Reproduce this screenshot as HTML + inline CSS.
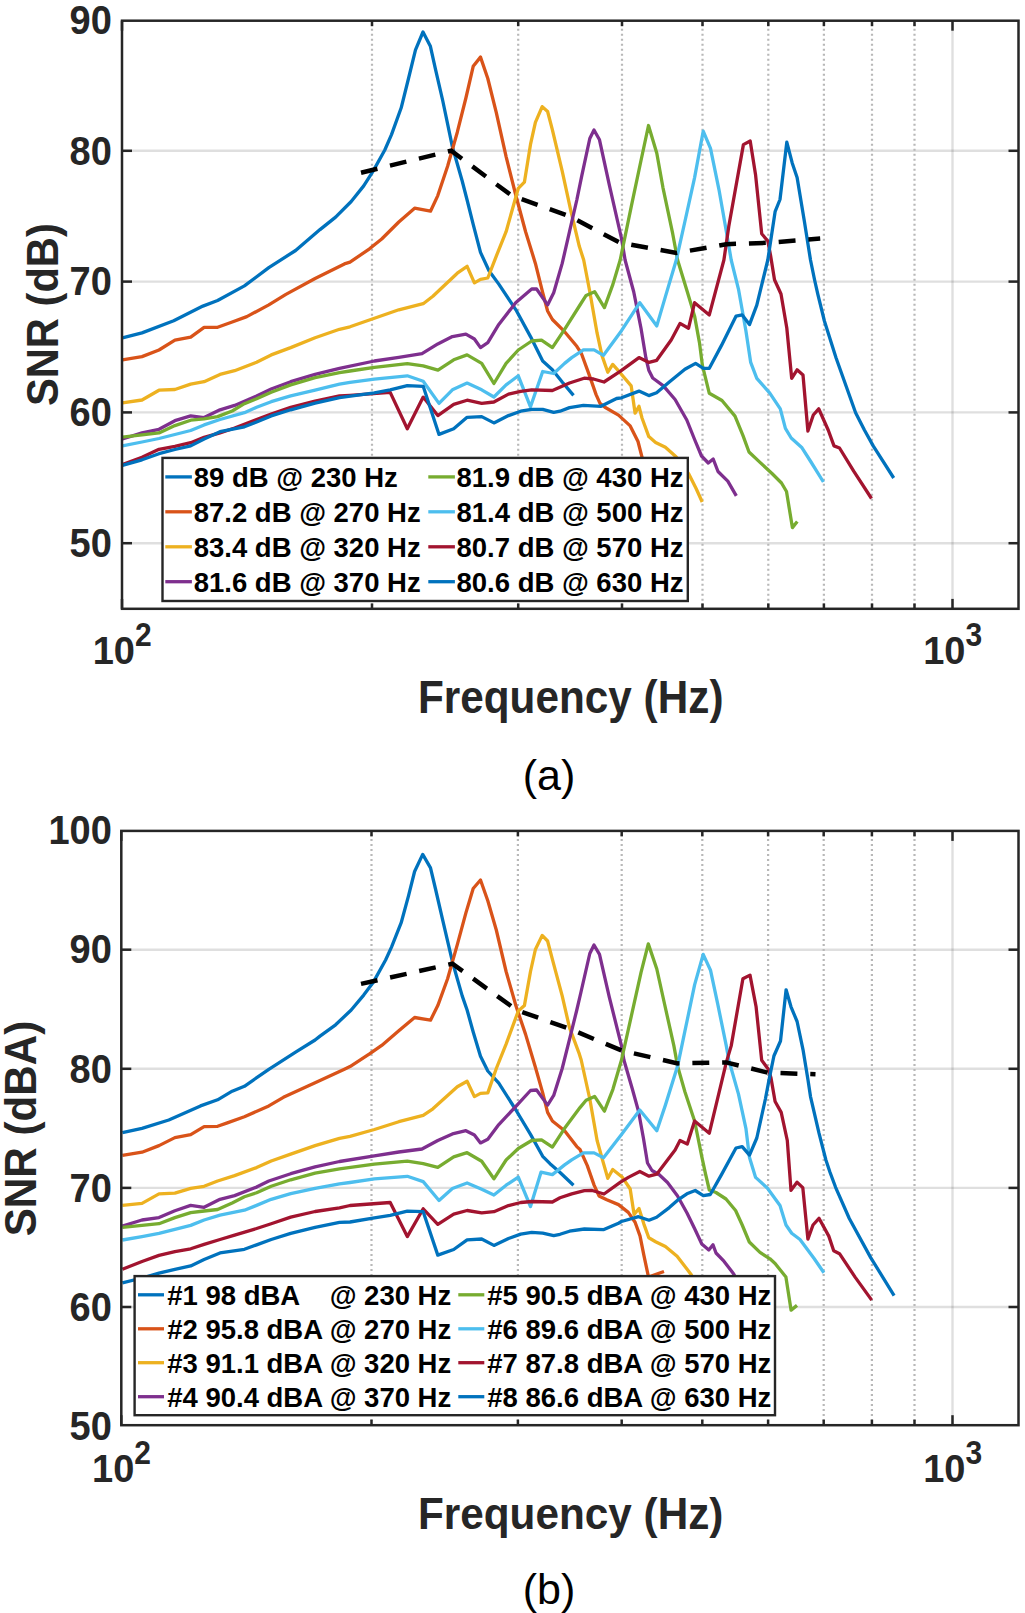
<!DOCTYPE html>
<html><head><meta charset="utf-8"><title>SNR vs Frequency</title>
<style>html,body{margin:0;padding:0;background:#fff;}svg{display:block;}</style>
</head><body>
<svg width="1025" height="1613" viewBox="0 0 1025 1613">
<rect width="1025" height="1613" fill="#fff"/>
<g stroke="#262626" stroke-opacity="0.15" stroke-width="2.4" fill="none">
<line x1="122" y1="150.8" x2="1018.5" y2="150.8"/>
<line x1="122" y1="281.6" x2="1018.5" y2="281.6"/>
<line x1="122" y1="412.4" x2="1018.5" y2="412.4"/>
<line x1="122" y1="543.2" x2="1018.5" y2="543.2"/>
<line x1="952.5" y1="20.7" x2="952.5" y2="608.9"/>
</g>
<g stroke="#b8b8b8" stroke-width="2.2" stroke-dasharray="2 3" fill="none">
<line x1="372" y1="23.7" x2="372" y2="608.9"/>
<line x1="518.2" y1="23.7" x2="518.2" y2="608.9"/>
<line x1="622" y1="23.7" x2="622" y2="608.9"/>
<line x1="702.5" y1="23.7" x2="702.5" y2="608.9"/>
<line x1="768.3" y1="23.7" x2="768.3" y2="608.9"/>
<line x1="823.9" y1="23.7" x2="823.9" y2="608.9"/>
<line x1="872" y1="23.7" x2="872" y2="608.9"/>
<line x1="914.5" y1="23.7" x2="914.5" y2="608.9"/>
</g>
<g fill="none" stroke-width="3.3" stroke-linejoin="round" stroke-linecap="butt">
<polyline stroke="#0072BD" points="122.4,337.8 142,332.9 173.7,320.7 202.9,306.1 217.6,300.5 244.4,285.9 268.8,267.6 295.6,250.5 320,229.6 335.6,217.1 351.2,201.5 363.7,185.9 373.1,171.1 384.8,150 391.5,134.6 401.2,107.8 408.5,78.5 415.5,49.9 423,32 430.4,46.3 435.4,68.8 442.7,100.5 452.4,146.8 462.2,181 467.1,200 473.2,224.4 480.5,252.4 489,270.7 498.8,284.1 515.9,309.8 530.5,336.6 542.7,361 552.4,369.8 562.2,382 573.5,395.4"/>
<polyline stroke="#D95319" points="122.4,359.8 142,356.6 159,350 174.9,340.2 190.7,337.1 204.1,327.3 217.6,327.3 232.2,322 246.8,316.6 268.8,304.9 285.9,294.4 315.1,278.5 344.4,263.9 350,262.2 369.5,248.8 381.7,239 398.8,222 414.6,208.2 430.5,211.2 437.8,195.6 447.6,166.3 457.3,132.2 465.9,98 473.2,66.3 480.5,57.1 487.8,78.5 496.3,112.7 506.1,156.6 516,196 525.6,231.7 535.4,263.4 542.7,292.7 547.6,311 552.4,319.5 564.6,331.7 576.8,346.3 581.5,353.7 589.3,375.1 596.1,394.6 600,403.4 604.9,407.3 618.5,415.1 630.2,425.9 638,441.5 642,457.1 644,470"/>
<polyline stroke="#EDB120" points="122.4,402.9 142,400 159,390.2 174.9,389.5 190.7,384.1 204.1,381.7 220,374.4 234.6,370.7 256.6,362.2 271.2,354.9 290.7,347.6 315.1,337.8 339.5,329.3 350,326.8 374.4,318.3 398.8,309.8 423.2,303.7 432.9,296.3 457.3,273.2 467.1,266.3 474.4,282.9 480.5,279.3 487.8,278 496.3,256.1 506.1,231.7 518.3,188.3 524.4,182.2 530.5,144.4 535.4,122.4 542.2,106.6 547.6,111.5 552.4,129.8 562.2,171.2 570.7,210.2 579.3,246.3 583.7,260 589.8,291.7 597.1,333.2 602,355.6 607.8,372.2 612.7,364.4 620.5,373.2 631.2,385.9 635.1,413.2 639,406.3 642,418 648.8,436.6 655.6,442.4 665.4,447.3 676,456.8 688.8,473.9 696.1,488.5 702.2,502"/>
<polyline stroke="#7E2F8E" points="122.4,439 142,432.9 159,429.3 174.9,420.7 190.7,415.9 204.1,417.6 220,409.8 234.6,405.4 256.6,395.9 271.2,389 290.7,381.7 315.1,374.4 339.5,368.3 374.4,361 398.8,357.3 422,353.7 437.8,343.9 452.4,336.6 465.9,334.1 474.4,339 480.5,347.6 487.8,342.7 498.8,324.4 515.9,302.4 531.7,289 536.6,289 547.6,304.9 553.7,292.7 562.2,263.4 569.5,231.7 576.8,200 581.7,176.1 589.8,138.5 594,130 599.5,139.8 609.3,184.9 621.5,238.5 625.1,260 633.7,291.7 641,328.3 645.9,358 648.8,370.2 652.7,378 663.4,385.9 675.1,399.5 686.8,420 694.6,439.5 701.5,456 708.3,463 713.2,459 718,471.5 727.8,481.2 736.3,495.9"/>
<polyline stroke="#77AC30" points="122.4,437.1 142,434.9 159,432.9 174.9,425.6 190.7,420.2 204.1,418.8 217.6,416.6 232.2,411 244.4,403.7 256.6,398.8 271.2,392.2 290.7,384.9 315.1,377.6 339.5,372.7 350,371 374.4,367.3 407.3,363.7 423.2,365.9 438,370.2 453.7,359.8 467.1,354.9 481.7,363.4 493.9,383.5 506.1,363.4 518.3,350 531.7,341 541.5,340.2 552.4,347.6 564.6,329.3 580,305 586.1,295.4 594.6,291.7 604.4,307.6 612.9,284.4 620.2,260 631.2,206.8 641,160.5 648.5,125.5 656.8,153.2 662.9,187.3 672.7,233.7 677.6,260 687.3,291.7 694.6,316.1 699.5,342.9 702.4,365.4 709.3,393.3 722,400.5 735,416.1 743,435.6 749,452 760,462.4 772,473.5 781.5,483 786.5,491.5 792.4,527.6 797.3,521.5"/>
<polyline stroke="#4DBEEE" points="122.4,445.9 142,442 159,438.5 190.7,430.5 204.1,424.9 220,419.5 244.4,412.7 256.6,407.3 271.2,401.7 290.7,395.9 315.1,390.2 339.5,384.1 350,382.4 374.4,379.1 407.3,375.8 423.2,381.3 439,403.4 452.4,389.8 467.1,383.1 481.7,389.8 493.9,397 506.1,384.9 518.3,375.8 530.5,406.8 542.7,371.5 553.7,373.5 564.6,363.4 571.7,357.6 583.4,349.8 594.1,349.8 603.5,355.3 621.5,330.7 639.8,302.7 656.8,325.9 665.4,296.6 676.3,260 684.9,221.5 694.6,177.6 703.2,131.2 710.5,148.3 719,189.8 726.3,231.2 731.2,260 738.5,289.3 745.9,330.7 750.7,362.4 756.8,378.3 769.8,393.2 780.3,408.8 785.4,428.3 791.2,438 802,447.8 810.7,461.5 823.4,482"/>
<polyline stroke="#A2142F" points="122.4,464.6 142,457.3 159,449.3 174.9,446.3 190.7,442.7 204.1,437.3 220,432.9 234.6,428 256.6,419.5 271.2,414.1 290.7,407.3 315.1,401.2 339.5,395.9 350,395.3 390.2,392.4 407.3,428.8 423.2,397.1 437.8,415.6 453.7,404.4 467.1,400.2 481.7,403.4 493.9,402 508.5,394.1 520.7,391.3 531.7,389.8 552.4,390.5 569.5,383 584.2,378.2 593.5,379 604,382 620.5,371.2 639,357.6 649,362.4 656.7,360.3 671.2,340 680,323.4 688.5,328.3 694.6,302.7 709.3,314.9 723.9,260 728.8,226.3 743.4,144.6 750.2,141 755.6,175.1 761.7,233.7 767.8,241 770.5,255 774.5,279.7 781,294 786.8,328 791.7,378.4 797.1,369.8 803,375 807.9,431 813.3,415 818.7,408.8 828.3,430.2 834,445.9 839.5,448 853.7,471.2 871.5,498.5"/>
<polyline stroke="#0072BD" points="122.4,465.4 142,459.8 159,453.7 174.9,449.5 190.7,445.9 204.1,439 220,431.7 244.4,426.8 256.6,422 271.2,415.9 290.7,409.8 315.1,403.2 339.5,397.6 374.4,392.9 390.2,389.8 407.3,385.6 423.2,386.3 439,434.4 453.7,428.8 467.1,417.3 481.7,416.6 493.9,422.9 508.5,415.6 520.7,411.2 531.7,409.3 542.7,409.3 553.7,412.4 560,411.2 569.5,407.6 583.4,405.4 601,406.3 616.6,398.5 621.5,397.8 639,391.1 648.8,395.6 656.6,392.7 669.3,382 684.9,369.3 695.6,363.4 703.4,368.3 709.3,368.3 721.5,345.4 736.1,316.1 742.2,314.9 749.5,324.6 756.8,305.1 767.8,260 775.1,211.7 780,199.5 786.8,142.2 792.2,162.9 797.1,177.6 804.4,221.5 810.5,260 814.6,280 817.8,294.1 824.4,321 836.1,358 855.6,412.7 864.4,430 873.2,445.9 893.7,478"/>
</g>
<polyline fill="none" stroke="#000" stroke-width="4.5" stroke-dasharray="16.9 12.9" stroke-dashoffset="0" points="361,172.7 451.2,150.7 511.5,195.5 570,216.5 619.5,242.5 676.5,253 726.3,244.2 768,242.8 820.2,238.6"/>
<g stroke="#262626" stroke-width="2.5" fill="none">
<rect x="122" y="20.7" width="896.5" height="588.1"/>
<line x1="122" y1="150.8" x2="132" y2="150.8"/>
<line x1="1008.5" y1="150.8" x2="1018.5" y2="150.8"/>
<line x1="122" y1="281.6" x2="132" y2="281.6"/>
<line x1="1008.5" y1="281.6" x2="1018.5" y2="281.6"/>
<line x1="122" y1="412.4" x2="132" y2="412.4"/>
<line x1="1008.5" y1="412.4" x2="1018.5" y2="412.4"/>
<line x1="122" y1="543.2" x2="132" y2="543.2"/>
<line x1="1008.5" y1="543.2" x2="1018.5" y2="543.2"/>
<line x1="122" y1="608.9" x2="122" y2="598.9"/>
<line x1="122" y1="20.7" x2="122" y2="30.7"/>
<line x1="952.5" y1="608.9" x2="952.5" y2="598.9"/>
<line x1="952.5" y1="20.7" x2="952.5" y2="30.7"/>
<line x1="372" y1="608.9" x2="372" y2="603.4"/>
<line x1="372" y1="20.7" x2="372" y2="26.2"/>
<line x1="518.2" y1="608.9" x2="518.2" y2="603.4"/>
<line x1="518.2" y1="20.7" x2="518.2" y2="26.2"/>
<line x1="622" y1="608.9" x2="622" y2="603.4"/>
<line x1="622" y1="20.7" x2="622" y2="26.2"/>
<line x1="702.5" y1="608.9" x2="702.5" y2="603.4"/>
<line x1="702.5" y1="20.7" x2="702.5" y2="26.2"/>
<line x1="768.3" y1="608.9" x2="768.3" y2="603.4"/>
<line x1="768.3" y1="20.7" x2="768.3" y2="26.2"/>
<line x1="823.9" y1="608.9" x2="823.9" y2="603.4"/>
<line x1="823.9" y1="20.7" x2="823.9" y2="26.2"/>
<line x1="872" y1="608.9" x2="872" y2="603.4"/>
<line x1="872" y1="20.7" x2="872" y2="26.2"/>
<line x1="914.5" y1="608.9" x2="914.5" y2="603.4"/>
<line x1="914.5" y1="20.7" x2="914.5" y2="26.2"/>
</g>
<g font-family="'Liberation Sans', Arial, Helvetica, sans-serif" font-weight="bold" font-size="38" fill="#262626" text-anchor="end">
<text transform="translate(111.8 33.8) scale(1 1.05)">90</text>
<text transform="translate(111.8 164.5) scale(1 1.05)">80</text>
<text transform="translate(111.8 295.3) scale(1 1.05)">70</text>
<text transform="translate(111.8 426.1) scale(1 1.05)">60</text>
<text transform="translate(111.8 556.9) scale(1 1.05)">50</text>
</g>
<g font-family="'Liberation Sans', Arial, Helvetica, sans-serif" font-weight="bold" fill="#262626">
<text x="135" y="664.2" font-size="38" text-anchor="end">10</text>
<text transform="translate(135 645.9) scale(1 1.1)" font-size="30">2</text>
<text x="965.5" y="664.2" font-size="38" text-anchor="end">10</text>
<text transform="translate(965.5 645.9) scale(1 1.1)" font-size="30">3</text>
</g>
<text transform="translate(570.7 712.7) scale(1 1.079)" font-family="'Liberation Sans', Arial, Helvetica, sans-serif" font-weight="bold" font-size="42.3" fill="#262626" text-anchor="middle">Frequency (Hz)</text>
<text transform="translate(58 314.6) rotate(-90) scale(1 1.06)" font-family="'Liberation Sans', Arial, Helvetica, sans-serif" font-weight="bold" font-size="41.7" fill="#262626" text-anchor="middle">SNR (dB)</text>
<text x="549" y="790.3" font-family="'Liberation Sans', Arial, Helvetica, sans-serif" font-size="43" fill="#000" text-anchor="middle">(a)</text>
<rect x="162.5" y="457.9" width="525.3" height="143.1" fill="#fff" stroke="#262626" stroke-width="2.4"/>
<g font-family="'Liberation Sans', Arial, Helvetica, sans-serif" font-weight="bold" font-size="27.5" fill="#000" style="white-space:pre">
<line x1="165.3" y1="476.9" x2="191.9" y2="476.9" stroke="#0072BD" stroke-width="3.3"/>
<text transform="translate(193.7 487.2) scale(1 1.03)" xml:space="preserve">89 dB @ 230 Hz</text>
<line x1="165.3" y1="511.8" x2="191.9" y2="511.8" stroke="#D95319" stroke-width="3.3"/>
<text transform="translate(193.7 522.1) scale(1 1.03)" xml:space="preserve">87.2 dB @ 270 Hz</text>
<line x1="165.3" y1="546.8" x2="191.9" y2="546.8" stroke="#EDB120" stroke-width="3.3"/>
<text transform="translate(193.7 557) scale(1 1.03)" xml:space="preserve">83.4 dB @ 320 Hz</text>
<line x1="165.3" y1="581.7" x2="191.9" y2="581.7" stroke="#7E2F8E" stroke-width="3.3"/>
<text transform="translate(193.7 592) scale(1 1.03)" xml:space="preserve">81.6 dB @ 370 Hz</text>
<line x1="428.3" y1="476.9" x2="454.9" y2="476.9" stroke="#77AC30" stroke-width="3.3"/>
<text transform="translate(456.5 487.2) scale(1 1.03)" xml:space="preserve">81.9 dB @ 430 Hz</text>
<line x1="428.3" y1="511.8" x2="454.9" y2="511.8" stroke="#4DBEEE" stroke-width="3.3"/>
<text transform="translate(456.5 522.1) scale(1 1.03)" xml:space="preserve">81.4 dB @ 500 Hz</text>
<line x1="428.3" y1="546.8" x2="454.9" y2="546.8" stroke="#A2142F" stroke-width="3.3"/>
<text transform="translate(456.5 557) scale(1 1.03)" xml:space="preserve">80.7 dB @ 570 Hz</text>
<line x1="428.3" y1="581.7" x2="454.9" y2="581.7" stroke="#0072BD" stroke-width="3.3"/>
<text transform="translate(456.5 592) scale(1 1.03)" xml:space="preserve">80.6 dB @ 630 Hz</text>
</g>
<g stroke="#262626" stroke-opacity="0.15" stroke-width="2.4" fill="none">
<line x1="121.3" y1="949.7" x2="1018.5" y2="949.7"/>
<line x1="121.3" y1="1068.8" x2="1018.5" y2="1068.8"/>
<line x1="121.3" y1="1187.9" x2="1018.5" y2="1187.9"/>
<line x1="121.3" y1="1307" x2="1018.5" y2="1307"/>
<line x1="952.5" y1="830.9" x2="952.5" y2="1425.2"/>
</g>
<g stroke="#b8b8b8" stroke-width="2.2" stroke-dasharray="2 3" fill="none">
<line x1="371.5" y1="833.9" x2="371.5" y2="1425.2"/>
<line x1="517.9" y1="833.9" x2="517.9" y2="1425.2"/>
<line x1="621.7" y1="833.9" x2="621.7" y2="1425.2"/>
<line x1="702.3" y1="833.9" x2="702.3" y2="1425.2"/>
<line x1="768.1" y1="833.9" x2="768.1" y2="1425.2"/>
<line x1="823.7" y1="833.9" x2="823.7" y2="1425.2"/>
<line x1="871.9" y1="833.9" x2="871.9" y2="1425.2"/>
<line x1="914.5" y1="833.9" x2="914.5" y2="1425.2"/>
</g>
<g fill="none" stroke-width="3.3" stroke-linejoin="round" stroke-linecap="butt">
<polyline stroke="#0072BD" points="122.4,1132.7 142,1128.3 168.8,1120 200.5,1105.9 217.6,1099.8 232.2,1091.2 244.4,1086.3 268.8,1069.3 295.6,1052.2 315.1,1040 320,1036.1 335.6,1024.8 351.2,1010 363.7,995.1 373.1,982.6 385.6,960 391.5,947.1 401.2,922.7 408.5,895.9 414.6,871.5 422.7,854.4 430.5,867.8 435.4,888.5 442.7,920.2 452.4,961.7 462.2,995.9 467.1,1010 473.2,1032 480.5,1056.3 487.8,1071 498.8,1083.2 515.9,1110 530.5,1134.4 542.7,1156.3 550,1163.7 559.8,1172.2 573.5,1185.3"/>
<polyline stroke="#D95319" points="122.4,1155.4 142,1152.2 159,1145.6 174.9,1137.6 190.7,1134.6 204.1,1126.6 217.6,1126.3 227.3,1122.9 244.4,1116.8 268.8,1105.9 283.4,1097.3 315.1,1082.7 344.4,1069.3 350,1066.6 369.5,1053.9 381.7,1045.4 398.8,1030.7 414.6,1017.5 430.5,1020.2 437.8,1005.6 447.6,978.8 457.3,944.6 465.9,912.9 473.2,888.5 480.5,880 487.8,900.7 496.3,930 506.1,971.5 516,1006 525.6,1034.4 535.4,1067.3 542.7,1092.9 547.6,1112.4 552.4,1121 564.6,1130.7 576.8,1146.6 580,1149.5 587.3,1165.6 594.1,1185.1 599,1195.9 606.8,1199.8 618.5,1204.6 628.3,1212.4 635.1,1222.2 640,1235.9 643.9,1255.4 648.5,1277 664,1271.5"/>
<polyline stroke="#EDB120" points="122.4,1205.4 142,1203.4 159,1193.9 174.9,1193.2 190.7,1188.3 204.1,1186.3 217.6,1181 234.6,1175.6 256.6,1167.6 271.2,1161 290.7,1154.1 315.1,1145.6 339.5,1138.3 350,1136.3 374.4,1129.5 398.8,1121.7 423.2,1115.4 432.9,1108.8 457.3,1086.8 467.1,1081.2 474.4,1096.6 480.5,1093.4 487.8,1092.9 496.3,1068.5 506.1,1044.1 518.3,1011 524.4,1005.6 530.5,971.5 535.4,949.5 542.2,935.4 547.6,941 552.4,959.3 562.2,995.9 569.5,1027.6 579.3,1053.9 581.2,1060 589.8,1099 597.1,1140.5 603.2,1162.4 607.8,1178.3 612.7,1169.5 622.4,1177.3 630.2,1189 634.1,1214.4 639,1208.5 643.9,1224.1 648.8,1237.8 655.6,1241.7 665.4,1246.6 677.1,1256.3 690.7,1273.9 700,1290"/>
<polyline stroke="#7E2F8E" points="122.4,1226.1 142,1220 159,1217.6 174.9,1210.7 190.7,1205.4 204.1,1207.3 220,1199.3 234.6,1195.6 256.6,1187.1 268.8,1181 290.7,1173.7 315.1,1166.8 339.5,1161.5 374.4,1155.9 398.8,1152 422,1149 437.8,1140.5 452.4,1133.9 465.9,1130.7 474.4,1134.9 480.5,1142.9 487.8,1139.3 498.8,1124.6 515.9,1106.3 530.5,1090.5 536.6,1090 547.6,1105.1 553.7,1095.4 562.2,1068.5 569.5,1039.3 576.8,1010 581,992 589.8,953.5 594,945 599.5,954.4 609.3,997.1 621.5,1045.9 623.9,1060 632.4,1089.3 638.5,1111.2 643.4,1138 647.5,1163 652,1170.5 659,1174.5 667.5,1182.5 677.4,1195.7 687,1213 694.8,1229 701.8,1244 708.8,1250 713,1244.7 716,1253 723.9,1261.2 733.7,1273.9 742,1290"/>
<polyline stroke="#77AC30" points="122.4,1227.3 142,1225.4 159,1223.7 174.9,1217.6 190.7,1212.7 204.1,1211 217.6,1209.5 232.2,1202.9 244.4,1196.8 256.6,1192.7 271.2,1186.3 290.7,1179.8 315.1,1173.2 339.5,1168.8 374.4,1164.1 407.3,1161.2 423.2,1163.7 437.8,1167.3 453.7,1156.8 467.1,1152.7 481.7,1161.2 493.9,1178.8 506.1,1160 518.3,1148.5 531.7,1140.5 541.5,1139.8 552.4,1147.1 564.6,1128.3 580,1107.6 586.1,1100.2 594.6,1096.4 604.4,1111.2 612.9,1089.3 621.5,1060 631.2,1016.6 641,972.7 648.3,943.9 656.8,969 664.1,1002 673.9,1045.9 677.6,1066.1 684.9,1091.7 694.6,1121 702,1157.6 705.4,1173.4 709.3,1190 716,1192.5 726,1199 735.6,1210.5 742,1224.5 749.3,1242 760,1252.4 770,1258.8 775.1,1263.4 785.9,1277.1 791.1,1310.2 797,1305.4"/>
<polyline stroke="#4DBEEE" points="122.4,1240 142,1236.6 159,1233.4 190.7,1225.4 204.1,1220 220,1215.1 244.4,1210.2 256.6,1205.4 271.2,1199.3 290.7,1193.7 315.1,1188.3 339.5,1183.9 350,1182.5 374.4,1178.8 407.3,1176.3 423.2,1181.6 439,1200.5 452.4,1188.5 467.1,1183 481.7,1189.3 493.9,1195 506.1,1185.2 518.3,1177.1 530.5,1206.5 541,1172.2 552.4,1174.6 564.6,1164.9 571.7,1159.8 583.4,1152.9 594.1,1152.9 603.5,1157.7 621.5,1134.4 639.8,1110 656.8,1130.7 665.4,1105.1 677.6,1066.1 684.9,1031.2 694.6,984.9 703.2,954.4 710.5,970.2 717.8,1004.4 726.3,1045.9 728.8,1060 738.5,1094.1 745.9,1128.3 749.5,1157.6 755.6,1177.4 767.5,1188.3 780,1205.5 786,1225 791.7,1233.2 800,1239.5 814.1,1258.5 823.9,1272.8"/>
<polyline stroke="#A2142F" points="122.4,1269.3 142,1261.5 159,1255.4 174.9,1251.7 190.7,1248.8 204.1,1244.4 220,1239.5 234.6,1235.1 256.6,1228.5 271.2,1223.7 290.7,1217.1 315.1,1211.5 339.5,1207.8 350,1205.5 390.2,1202.5 407.3,1236.6 423.2,1208.8 437.8,1224.4 453.7,1214.1 467.1,1210.5 481.7,1212.9 493.9,1211.7 508.5,1205.6 520.7,1202.5 531.7,1201.5 552.4,1202 560,1197.8 571.7,1193.9 584.4,1190.6 592.2,1190.5 604,1194 620.5,1182.2 628.8,1177.1 639.8,1171.5 649,1176.2 656.7,1174.2 675.1,1150 680,1140.5 687.3,1144.1 694.6,1121 709.3,1133.2 726.3,1062.4 731.2,1045.9 742.9,978.8 750,975.1 756.1,1006.8 761.7,1060.3 768.5,1069.5 771,1078 775.1,1101.5 781.2,1112.4 787.3,1140.5 791,1190.4 797,1182.2 802.8,1187.6 807.9,1239.1 813,1225 819,1218.3 828.8,1236.1 833.7,1250.7 839.5,1253.7 855.1,1277.1 871.7,1300.1"/>
<polyline stroke="#0072BD" points="122.4,1282.9 142,1278 159,1273.2 174.9,1269.3 190.7,1265.9 204.1,1259.5 220,1252.9 244.4,1249.3 256.6,1244.9 271.2,1239.5 290.7,1233.4 315.1,1227.3 339.5,1222.4 350,1222 374.4,1217.8 390.2,1215.4 407.3,1211.2 423.2,1211.7 437.8,1255.1 453.7,1249.5 467.1,1239.8 481.7,1239 493.9,1245.4 508.5,1238.5 520.7,1234.1 531.7,1232.4 542.7,1233.2 553.7,1235.6 560,1234.3 569.5,1231.2 584.4,1229 603.9,1229.6 618.5,1223.2 621.5,1221.5 638.5,1216.7 649,1220.2 656.6,1217.3 669.3,1207.6 677.6,1200.2 686.9,1193.8 695.2,1190.5 703.3,1195.6 710.3,1194.5 721.5,1174.6 736,1148 742.2,1146.6 749.5,1155.1 756.8,1138 765.4,1099 769,1080 773.9,1056 780.5,1041 786.1,989.8 791,1006.8 797.1,1021.5 803.2,1050.7 808,1080 810.5,1096.6 819,1133.2 825.9,1160 830,1172.2 835.6,1187.3 849.3,1218.5 870.7,1257.6 894.1,1295.6"/>
</g>
<polyline fill="none" stroke="#000" stroke-width="4.5" stroke-dasharray="16.9 12.9" stroke-dashoffset="0" points="361,983.9 452.4,963.7 516.5,1010 570,1029 622,1050.7 677.6,1063.4 726.3,1062.4 768,1072.7 815.5,1074.2"/>
<g stroke="#262626" stroke-width="2.5" fill="none">
<rect x="121.3" y="830.9" width="897.2" height="594.3"/>
<line x1="121.3" y1="949.7" x2="131.3" y2="949.7"/>
<line x1="1008.5" y1="949.7" x2="1018.5" y2="949.7"/>
<line x1="121.3" y1="1068.8" x2="131.3" y2="1068.8"/>
<line x1="1008.5" y1="1068.8" x2="1018.5" y2="1068.8"/>
<line x1="121.3" y1="1187.9" x2="131.3" y2="1187.9"/>
<line x1="1008.5" y1="1187.9" x2="1018.5" y2="1187.9"/>
<line x1="121.3" y1="1307" x2="131.3" y2="1307"/>
<line x1="1008.5" y1="1307" x2="1018.5" y2="1307"/>
<line x1="121.3" y1="1425.2" x2="121.3" y2="1415.2"/>
<line x1="121.3" y1="830.9" x2="121.3" y2="840.9"/>
<line x1="952.5" y1="1425.2" x2="952.5" y2="1415.2"/>
<line x1="952.5" y1="830.9" x2="952.5" y2="840.9"/>
<line x1="371.5" y1="1425.2" x2="371.5" y2="1419.7"/>
<line x1="371.5" y1="830.9" x2="371.5" y2="836.4"/>
<line x1="517.9" y1="1425.2" x2="517.9" y2="1419.7"/>
<line x1="517.9" y1="830.9" x2="517.9" y2="836.4"/>
<line x1="621.7" y1="1425.2" x2="621.7" y2="1419.7"/>
<line x1="621.7" y1="830.9" x2="621.7" y2="836.4"/>
<line x1="702.3" y1="1425.2" x2="702.3" y2="1419.7"/>
<line x1="702.3" y1="830.9" x2="702.3" y2="836.4"/>
<line x1="768.1" y1="1425.2" x2="768.1" y2="1419.7"/>
<line x1="768.1" y1="830.9" x2="768.1" y2="836.4"/>
<line x1="823.7" y1="1425.2" x2="823.7" y2="1419.7"/>
<line x1="823.7" y1="830.9" x2="823.7" y2="836.4"/>
<line x1="871.9" y1="1425.2" x2="871.9" y2="1419.7"/>
<line x1="871.9" y1="830.9" x2="871.9" y2="836.4"/>
<line x1="914.5" y1="1425.2" x2="914.5" y2="1419.7"/>
<line x1="914.5" y1="830.9" x2="914.5" y2="836.4"/>
</g>
<g font-family="'Liberation Sans', Arial, Helvetica, sans-serif" font-weight="bold" font-size="38" fill="#262626" text-anchor="end">
<text transform="translate(111.8 844.3) scale(1 1.05)">100</text>
<text transform="translate(111.8 963.4) scale(1 1.05)">90</text>
<text transform="translate(111.8 1082.5) scale(1 1.05)">80</text>
<text transform="translate(111.8 1201.6) scale(1 1.05)">70</text>
<text transform="translate(111.8 1320.7) scale(1 1.05)">60</text>
<text transform="translate(111.8 1439.8) scale(1 1.05)">50</text>
</g>
<g font-family="'Liberation Sans', Arial, Helvetica, sans-serif" font-weight="bold" fill="#262626">
<text x="134.3" y="1482.3" font-size="38" text-anchor="end">10</text>
<text transform="translate(134.3 1464) scale(1 1.1)" font-size="30">2</text>
<text x="965.5" y="1482.3" font-size="38" text-anchor="end">10</text>
<text transform="translate(965.5 1464) scale(1 1.1)" font-size="30">3</text>
</g>
<text transform="translate(570.7 1529.1) scale(1 1.034)" font-family="'Liberation Sans', Arial, Helvetica, sans-serif" font-weight="bold" font-size="42.3" fill="#262626" text-anchor="middle">Frequency (Hz)</text>
<text transform="translate(36 1128.5) rotate(-90) scale(1 1.03)" font-family="'Liberation Sans', Arial, Helvetica, sans-serif" font-weight="bold" font-size="42.2" fill="#262626" text-anchor="middle">SNR (dBA)</text>
<text x="549" y="1604.1" font-family="'Liberation Sans', Arial, Helvetica, sans-serif" font-size="43" fill="#000" text-anchor="middle">(b)</text>
<rect x="134.6" y="1276.1" width="640.4" height="139.1" fill="#fff" stroke="#262626" stroke-width="2.4"/>
<g font-family="'Liberation Sans', Arial, Helvetica, sans-serif" font-weight="bold" font-size="27.5" fill="#000" style="white-space:pre">
<line x1="138" y1="1294.8" x2="164" y2="1294.8" stroke="#0072BD" stroke-width="3.3"/>
<text transform="translate(167.2 1305.1) scale(1 1.03)" xml:space="preserve">#1 98 dBA    @ 230 Hz</text>
<line x1="138" y1="1328.8" x2="164" y2="1328.8" stroke="#D95319" stroke-width="3.3"/>
<text transform="translate(167.2 1339.1) scale(1 1.03)" xml:space="preserve">#2 95.8 dBA @ 270 Hz</text>
<line x1="138" y1="1362.7" x2="164" y2="1362.7" stroke="#EDB120" stroke-width="3.3"/>
<text transform="translate(167.2 1373) scale(1 1.03)" xml:space="preserve">#3 91.1 dBA @ 320 Hz</text>
<line x1="138" y1="1396.7" x2="164" y2="1396.7" stroke="#7E2F8E" stroke-width="3.3"/>
<text transform="translate(167.2 1407) scale(1 1.03)" xml:space="preserve">#4 90.4 dBA @ 370 Hz</text>
<line x1="458.3" y1="1294.8" x2="484.3" y2="1294.8" stroke="#77AC30" stroke-width="3.3"/>
<text transform="translate(487.3 1305.1) scale(1 1.03)" xml:space="preserve">#5 90.5 dBA @ 430 Hz</text>
<line x1="458.3" y1="1328.8" x2="484.3" y2="1328.8" stroke="#4DBEEE" stroke-width="3.3"/>
<text transform="translate(487.3 1339.1) scale(1 1.03)" xml:space="preserve">#6 89.6 dBA @ 500 Hz</text>
<line x1="458.3" y1="1362.7" x2="484.3" y2="1362.7" stroke="#A2142F" stroke-width="3.3"/>
<text transform="translate(487.3 1373) scale(1 1.03)" xml:space="preserve">#7 87.8 dBA @ 570 Hz</text>
<line x1="458.3" y1="1396.7" x2="484.3" y2="1396.7" stroke="#0072BD" stroke-width="3.3"/>
<text transform="translate(487.3 1407) scale(1 1.03)" xml:space="preserve">#8 86.6 dBA @ 630 Hz</text>
</g>
</svg>
</body></html>
